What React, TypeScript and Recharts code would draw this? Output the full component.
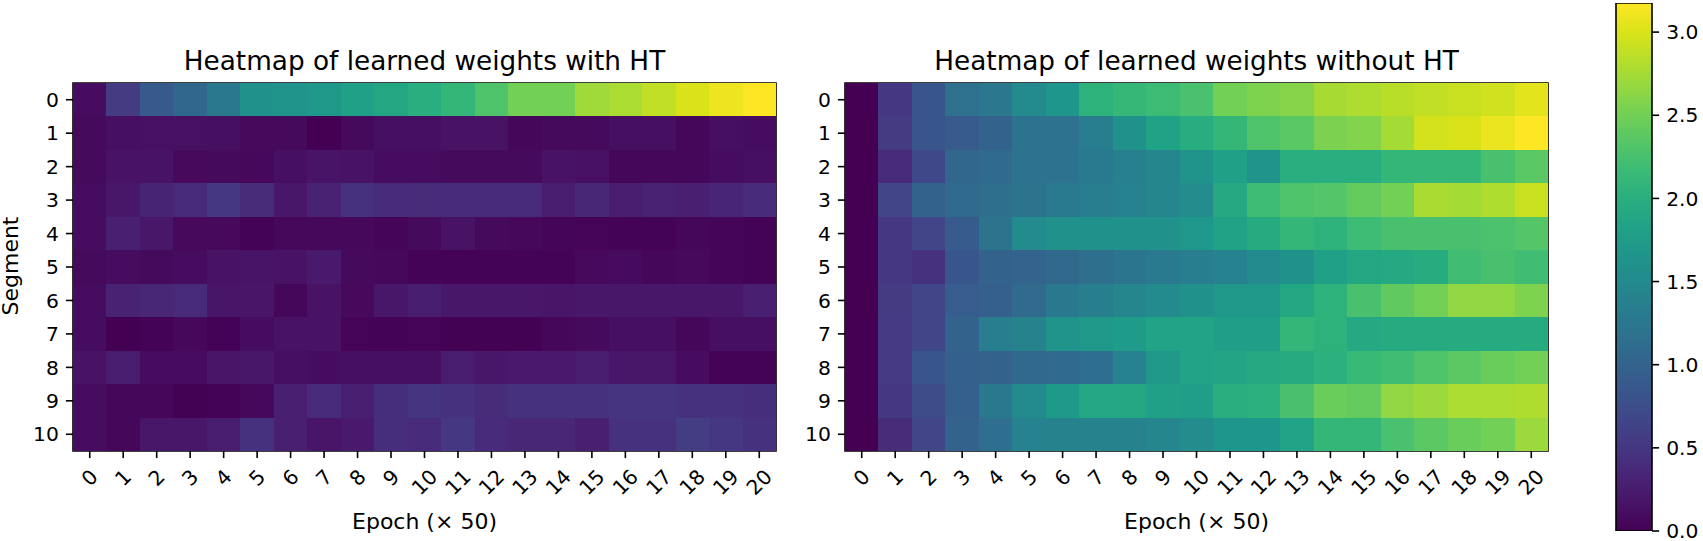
import { ScatterChart, Scatter, XAxis, YAxis, ReferenceArea, BarChart, Bar } from 'recharts';

// tick labels
const epochs = [0, 1, 2, 3, 4, 5, 6, 7, 8, 9, 10, 11, 12, 13, 14, 15, 16, 17, 18, 19, 20];
const segments = [0, 1, 2, 3, 4, 5, 6, 7, 8, 9, 10];
const colorbarTicks = [0, 0.5, 1, 1.5, 2, 2.5, 3];
const vmax = 3.175;

// learned weights, one row per segment, one column per epoch (x 50)
const withHT = [
  [0.1, 0.55, 0.88, 1.05, 1.27, 1.6, 1.65, 1.7, 1.8, 1.9, 2.0, 2.1, 2.3, 2.5, 2.5, 2.72, 2.78, 2.88, 3.0, 3.1, 3.175],
  [0.08, 0.12, 0.13, 0.13, 0.12, 0.07, 0.08, 0.0, 0.08, 0.12, 0.12, 0.15, 0.15, 0.05, 0.08, 0.08, 0.12, 0.12, 0.05, 0.12, 0.1],
  [0.08, 0.15, 0.15, 0.07, 0.08, 0.06, 0.12, 0.17, 0.15, 0.1, 0.1, 0.08, 0.08, 0.08, 0.15, 0.13, 0.05, 0.05, 0.05, 0.1, 0.12],
  [0.1, 0.2, 0.32, 0.38, 0.5, 0.4, 0.2, 0.3, 0.45, 0.38, 0.4, 0.38, 0.38, 0.38, 0.25, 0.35, 0.25, 0.3, 0.28, 0.33, 0.38],
  [0.1, 0.28, 0.2, 0.07, 0.07, 0.02, 0.06, 0.06, 0.06, 0.04, 0.08, 0.15, 0.08, 0.06, 0.04, 0.03, 0.02, 0.02, 0.05, 0.04, 0.02],
  [0.08, 0.1, 0.08, 0.1, 0.15, 0.17, 0.15, 0.22, 0.08, 0.06, 0.02, 0.02, 0.02, 0.02, 0.02, 0.07, 0.09, 0.05, 0.07, 0.04, 0.02],
  [0.1, 0.3, 0.35, 0.38, 0.18, 0.18, 0.05, 0.15, 0.07, 0.2, 0.27, 0.2, 0.2, 0.2, 0.18, 0.2, 0.2, 0.2, 0.2, 0.2, 0.28],
  [0.1, 0.0, 0.02, 0.06, 0.02, 0.1, 0.15, 0.15, 0.03, 0.02, 0.03, 0.01, 0.01, 0.01, 0.05, 0.08, 0.12, 0.12, 0.05, 0.12, 0.12],
  [0.15, 0.25, 0.1, 0.1, 0.18, 0.2, 0.12, 0.1, 0.12, 0.12, 0.12, 0.25, 0.2, 0.22, 0.22, 0.25, 0.2, 0.2, 0.1, 0.02, 0.02],
  [0.1, 0.05, 0.05, 0.01, 0.02, 0.06, 0.28, 0.38, 0.28, 0.42, 0.48, 0.45, 0.4, 0.45, 0.45, 0.45, 0.48, 0.48, 0.45, 0.45, 0.42],
  [0.1, 0.05, 0.2, 0.2, 0.25, 0.45, 0.28, 0.18, 0.22, 0.42, 0.38, 0.5, 0.38, 0.35, 0.35, 0.28, 0.45, 0.45, 0.58, 0.5, 0.45],
];

const withoutHT = [
  [0.0, 0.5, 0.84, 1.17, 1.25, 1.5, 1.67, 2.05, 2.12, 2.17, 2.26, 2.5, 2.56, 2.6, 2.76, 2.8, 2.84, 2.88, 2.92, 2.95, 3.05],
  [0.0, 0.55, 0.84, 0.9, 1.0, 1.18, 1.18, 1.34, 1.6, 1.82, 1.98, 2.1, 2.3, 2.37, 2.55, 2.58, 2.75, 2.97, 3.0, 3.08, 3.175],
  [0.0, 0.38, 0.7, 1.05, 1.1, 1.18, 1.18, 1.3, 1.38, 1.45, 1.65, 1.8, 1.65, 2.0, 2.0, 2.0, 2.1, 2.1, 2.1, 2.25, 2.37],
  [0.0, 0.67, 1.0, 1.1, 1.15, 1.2, 1.3, 1.34, 1.4, 1.45, 1.55, 1.92, 2.17, 2.3, 2.33, 2.42, 2.5, 2.77, 2.75, 2.8, 2.92],
  [0.0, 0.5, 0.67, 0.9, 1.2, 1.5, 1.6, 1.6, 1.6, 1.6, 1.68, 1.82, 1.95, 2.1, 2.05, 2.17, 2.25, 2.25, 2.25, 2.28, 2.34],
  [0.0, 0.5, 0.45, 0.84, 1.0, 1.02, 1.07, 1.15, 1.22, 1.3, 1.33, 1.4, 1.5, 1.6, 1.8, 1.9, 1.92, 1.97, 2.2, 2.25, 2.2],
  [0.0, 0.55, 0.67, 0.92, 0.95, 1.1, 1.27, 1.36, 1.45, 1.5, 1.6, 1.7, 1.7, 1.9, 2.05, 2.25, 2.4, 2.5, 2.65, 2.65, 2.56],
  [0.0, 0.52, 0.67, 1.0, 1.34, 1.42, 1.65, 1.7, 1.75, 1.84, 1.85, 1.78, 1.78, 2.1, 2.05, 1.92, 1.95, 1.95, 1.95, 1.95, 1.95],
  [0.0, 0.52, 0.84, 0.97, 1.0, 1.07, 1.1, 1.13, 1.4, 1.7, 1.84, 1.86, 1.92, 1.95, 2.03, 2.15, 2.2, 2.3, 2.38, 2.45, 2.5],
  [0.0, 0.5, 0.72, 0.95, 1.27, 1.5, 1.72, 1.88, 1.9, 1.8, 1.77, 2.0, 2.02, 2.25, 2.45, 2.42, 2.65, 2.7, 2.78, 2.78, 2.8],
  [0.0, 0.4, 0.67, 1.0, 1.13, 1.4, 1.42, 1.42, 1.42, 1.45, 1.55, 1.67, 1.67, 1.84, 2.1, 2.1, 2.26, 2.38, 2.45, 2.5, 2.7],
];

const VIRIDIS = [
  '#440154', '#481467', '#482576', '#453781', '#404688', '#39568c', '#33638d', '#2d718e', '#287d8e', '#238a8d',
  '#1f968b', '#20a386', '#29af7f', '#3cbb75', '#55c667', '#73d055', '#95d840', '#b8de29', '#dce319', '#fde725',
];

const hexToRgb = (h: string) => [1, 3, 5].map((i) => parseInt(h.slice(i, i + 2), 16));

function viridis(v: number) {
  const t = Math.min(Math.max(v / vmax, 0), 1) * (VIRIDIS.length - 1);
  const i = Math.min(Math.floor(t), VIRIDIS.length - 2);
  const f = t - i;
  const a = hexToRgb(VIRIDIS[i]);
  const b = hexToRgb(VIRIDIS[i + 1]);
  const c = a.map((x, k) => Math.round(x + (b[k] - x) * f));
  return `rgb(${c[0]},${c[1]},${c[2]})`;
}

const toCells = (m: number[][]) =>
  m.flatMap((row, r) => row.map((v, c) => ({ x: epochs[c], y: segments[r], v })));

const FONT = '"DejaVu Sans", sans-serif';
const FS = 20.3; // tick labels
const LABEL_FS = 22; // axis labels
const TITLE_FS = 26.3;
const TICK = 7.1;
const LW = 1.6;
const PLOT_W = 703;
const PLOT_H = 368;
const CELL_W = PLOT_W / epochs.length;
const CELL_H = PLOT_H / segments.length;

const cellShape = (props: any) => {
  const { cx, cy, payload } = props;
  return (
    <rect
      x={cx - CELL_W / 2}
      y={cy - CELL_H / 2}
      width={CELL_W}
      height={CELL_H}
      fill={viridis(payload.v)}
      shapeRendering="crispEdges"
    />
  );
};

// rotated x tick label, box centred under the tick like matplotlib rotation=45
const XTick = (props: any) => {
  const { x, y, payload } = props;
  const label = String(payload.value);
  const w = label.length * 0.636 * FS;
  const half = ((w + 0.9 * FS) * Math.SQRT1_2) / 2;
  const cy = y + 8.5 + half;
  return (
    <text
      x={x}
      y={cy}
      transform={`rotate(-45 ${x} ${cy})`}
      textAnchor="middle"
      dominantBaseline="central"
      fontSize={FS}
      fontFamily={FONT}
      fill="#000"
    >
      {label}
    </text>
  );
};

const tickLine = { stroke: '#000', strokeWidth: LW };
const tickText = { fill: '#000', fontSize: FS, fontFamily: FONT };

const Heatmap = ({ data, left, width, yWidth, marginLeft }: any) => (
  <div style={{ position: 'absolute', left, top: 0 }}>
    <ScatterChart
      width={width}
      height={541}
      style={{ overflow: 'visible' }}
      margin={{ top: 83, right: width - marginLeft - yWidth - PLOT_W, bottom: 30, left: marginLeft }}
    >
      <XAxis
        type="number"
        dataKey="x"
        domain={[-0.5, 20.5]}
        ticks={epochs}
        interval={0}
        allowDataOverflow
        height={60}
        tickSize={TICK}
        tickMargin={0}
        axisLine={false}
        tickLine={tickLine}
        tick={<XTick />}
      />
      <YAxis
        type="number"
        dataKey="y"
        domain={[-0.5, 10.5]}
        reversed
        ticks={segments}
        interval={0}
        allowDataOverflow
        width={yWidth}
        tickSize={TICK}
        tickMargin={TICK}
        axisLine={false}
        tickLine={tickLine}
        tick={tickText}
      />
      <Scatter data={toCells(data)} shape={cellShape} isAnimationActive={false} />
      <ReferenceArea
        x1={-0.5}
        x2={20.5}
        y1={-0.5}
        y2={10.5}
        fill="none"
        fillOpacity={0}
        stroke="#000"
        strokeWidth={LW}
        ifOverflow="visible"
      />
    </ScatterChart>
  </div>
);

const Colorbar = () => (
  <div style={{ position: 'absolute', left: 1600, top: 0 }}>
    <BarChart
      width={103}
      height={541}
      data={[{ name: 'scale', v: vmax }]}
      margin={{ top: 3, right: 0, bottom: 10, left: 16 }}
      barCategoryGap={0}
    >
      <defs>
        <linearGradient id="viridisGrad" x1="0" y1="1" x2="0" y2="0">
          {VIRIDIS.map((c, i) => (
            <stop key={c} offset={i / (VIRIDIS.length - 1)} stopColor={c} />
          ))}
        </linearGradient>
      </defs>
      <XAxis dataKey="name" hide />
      <YAxis
        orientation="right"
        type="number"
        domain={[0, vmax]}
        ticks={colorbarTicks}
        interval={0}
        allowDataOverflow
        width={51}
        tickSize={TICK}
        tickMargin={TICK}
        axisLine={false}
        tickLine={tickLine}
        tick={tickText}
        tickFormatter={(v: number) => v.toFixed(1)}
      />
      <Bar dataKey="v" fill="url(#viridisGrad)" stroke="#000" strokeWidth={LW} isAnimationActive={false} />
    </BarChart>
  </div>
);

export default function App() {
  return (
    <div style={{ position: 'absolute', left: 0, top: 0, width: 1703, height: 541, background: '#fff' }}>
      <Heatmap data={withHT} left={0} width={800} yWidth={50} marginLeft={23} />
      <Heatmap data={withoutHT} left={800} width={795} yWidth={45} marginLeft={0} />
      <Colorbar />
      <svg
        width={1703}
        height={541}
        style={{ position: 'absolute', left: 0, top: 0, pointerEvents: 'none' }}
        fontFamily={FONT}
        fill="#000"
      >
        <text x={424.5} y={70} textAnchor="middle" fontSize={TITLE_FS}>
          Heatmap of learned weights with HT
        </text>
        <text x={1196.5} y={70} textAnchor="middle" fontSize={TITLE_FS}>
          Heatmap of learned weights without HT
        </text>
        <text x={424.5} y={529} textAnchor="middle" fontSize={LABEL_FS}>
          Epoch (× 50)
        </text>
        <text x={1196.5} y={529} textAnchor="middle" fontSize={LABEL_FS}>
          Epoch (× 50)
        </text>
        <text x={18} y={266} textAnchor="middle" fontSize={LABEL_FS} transform="rotate(-90 18 266)">
          Segment
        </text>
      </svg>
    </div>
  );
}
